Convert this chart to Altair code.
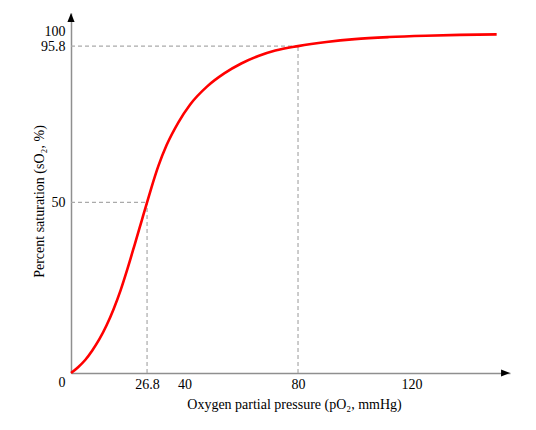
import altair as alt
import pandas as pd

# Oxygen dissociation curve
po2 = [0, 2.5, 5, 7.5, 10, 12.5, 15, 17.5, 20, 22.5, 25, 26.8, 28.4, 30.8,
       33.7, 37.8, 42, 48, 54, 60, 66, 72, 80, 90, 100, 112, 125, 137, 150]
so2 = [0, 1.7, 3.8, 6.6, 9.9, 13.9, 18.7, 24.3, 30.8, 37.8, 44.9, 50, 54.5, 60.7,
       66.8, 73.4, 78.7, 84.0, 87.8, 90.7, 92.9, 94.5, 95.8, 97.0, 97.85, 98.45,
       98.85, 99.1, 99.25]

x_ticks = [26.8, 40, 80, 120]
y_ticks = [50, 95.8, 100]
ref_x = [26.8, 80]
ref_y = [50, 95.8]
X_MAX = 154.7
Y_MAX = 105.5

FONT = "Liberation Serif"

curve_df = pd.DataFrame({"po2": po2, "so2": so2})
ref_df = pd.DataFrame({"rx": ref_x, "ry": ref_y, "zero": [0] * len(ref_x)})

xscale = alt.Scale(domain=[0, X_MAX], nice=False, zero=True)
yscale = alt.Scale(domain=[0, Y_MAX], nice=False, zero=True)

x_axis = alt.Axis(values=x_ticks, format=".1~f", grid=False, ticks=False,
                  labelFont=FONT, labelFontSize=14, labelColor="#000",
                  labelPadding=4, domainColor="#8f8f8f", domainWidth=1.5,
                  title="Oxygen partial pressure (pO\u2082, mmHg)",
                  titleFont=FONT, titleFontSize=14, titleFontWeight="normal",
                  titleColor="#000", titleX=223, titleY=31,
                  titleBaseline="middle", titleAnchor="middle",
                  labelFlush=False, labelOverlap=False)
y_axis = alt.Axis(values=y_ticks, format=".1~f", grid=False, ticks=False,
                  labelFont=FONT, labelFontSize=14, labelColor="#000",
                  labelPadding=6, domainColor="#8f8f8f", domainWidth=1.5,
                  title="Percent saturation (sO\u2082, %)",
                  titleFont=FONT, titleFontSize=14, titleFontWeight="normal",
                  titleColor="#000", titleX=-32, titleY=188, titleAngle=270,
                  titleBaseline="middle", titleAnchor="middle",
                  labelFlush=False, labelOverlap=False)

dash_style = dict(color="#aaaaaa", strokeWidth=1.2, strokeDash=[4, 3])

curve = alt.Chart(curve_df).mark_line(color="#ff0000", strokeWidth=2.6,
                                      interpolate="monotone").encode(
    x=alt.X("po2:Q", scale=xscale, axis=x_axis),
    y=alt.Y("so2:Q", scale=yscale, axis=y_axis),
)

h_rules = alt.Chart(ref_df).mark_rule(**dash_style).encode(
    x=alt.X("zero:Q", scale=xscale, axis=x_axis),
    x2="rx:Q",
    y=alt.Y("ry:Q", scale=yscale, axis=y_axis),
)
v_rules = alt.Chart(ref_df).mark_rule(**dash_style).encode(
    x=alt.X("rx:Q", scale=xscale, axis=x_axis),
    y=alt.Y("zero:Q", scale=yscale, axis=y_axis),
    y2="ry:Q",
)

arrow_right = alt.Chart(pd.DataFrame({"x": [X_MAX], "y": [0]})).mark_point(
    shape="M0,0L-4,-1.6L-4,1.6Z", size=20, filled=True, color="#000",
    opacity=1).encode(
    x=alt.X("x:Q", scale=xscale, axis=x_axis),
    y=alt.Y("y:Q", scale=yscale, axis=y_axis),
)
arrow_up = alt.Chart(pd.DataFrame({"x": [0], "y": [Y_MAX]})).mark_point(
    shape="M0,0L-1.6,4L1.6,4Z", size=20, filled=True, color="#000",
    opacity=1).encode(
    x=alt.X("x:Q", scale=xscale, axis=x_axis),
    y=alt.Y("y:Q", scale=yscale, axis=y_axis),
)

zero_label = alt.Chart(pd.DataFrame({"x": [0], "y": [0], "t": ["0"]})).mark_text(
    font=FONT, fontSize=14, color="#000", dx=-9, dy=10).encode(
    x=alt.X("x:Q", scale=xscale, axis=x_axis),
    y=alt.Y("y:Q", scale=yscale, axis=y_axis),
    text="t:N",
)

chart = alt.layer(h_rules, v_rules, curve, arrow_right, arrow_up, zero_label).properties(
    width=439, height=360,
    autosize=alt.AutoSizeParams(type="none"),
    padding={"left": 71, "top": 13, "right": 26, "bottom": 57},
    background="#ffffff",
).configure_view(strokeWidth=0)

chart.save("out.html", embed_options={"renderer": "svg", "actions": False})
